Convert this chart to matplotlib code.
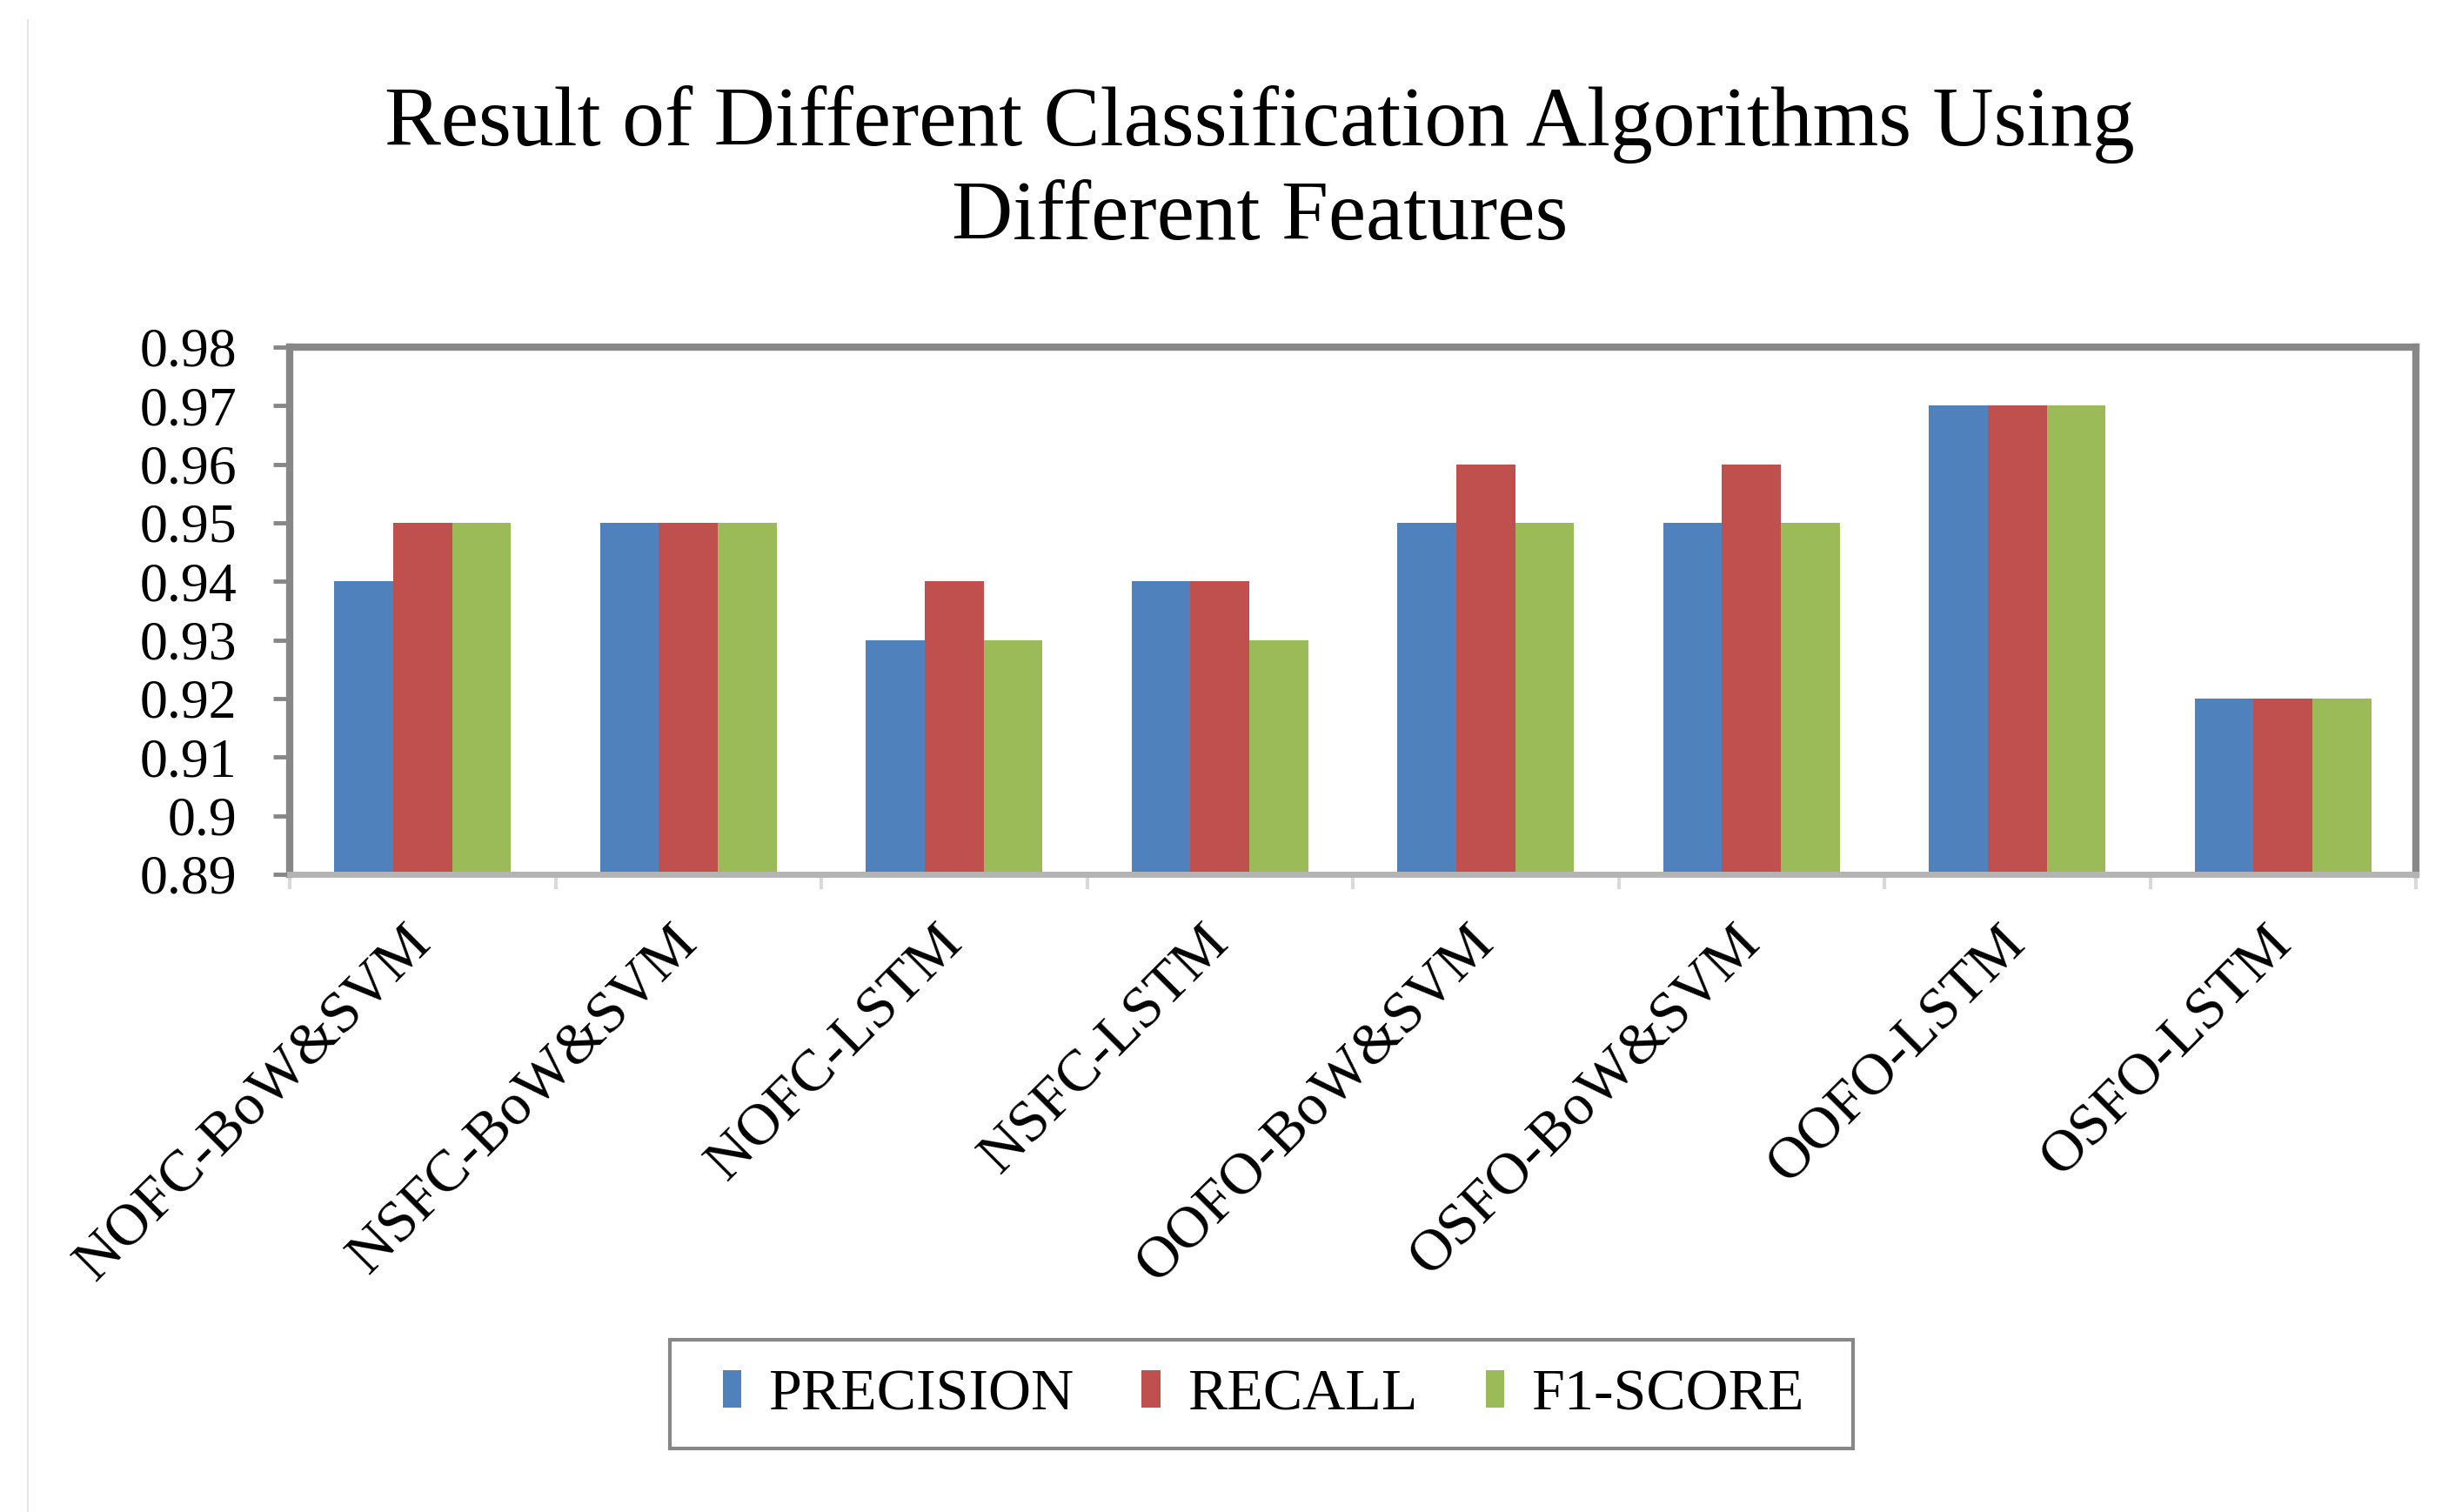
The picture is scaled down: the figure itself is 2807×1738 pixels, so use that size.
import numpy as np
import matplotlib
matplotlib.use("Agg")
import matplotlib.pyplot as plt
from matplotlib.patches import Rectangle
from matplotlib.lines import Line2D

plt.rcParams['font.family'] = ['Liberation Serif', 'DejaVu Serif']

categories = ['NOFC-BoW&SVM', 'NSFC-BoW&SVM', 'NOFC-LSTM', 'NSFC-LSTM',
              'OOFO-BoW&SVM', 'OSFO-BoW&SVM', 'OOFO-LSTM', 'OSFO-LSTM']
precision = [0.94, 0.95, 0.93, 0.94, 0.95, 0.95, 0.97, 0.92]
recall = [0.95, 0.95, 0.94, 0.94, 0.96, 0.96, 0.97, 0.92]
f1_score = [0.95, 0.95, 0.93, 0.93, 0.95, 0.95, 0.97, 0.92]
series_names = ['PRECISION', 'RECALL', 'F1-SCORE']
yticks = [0.89, 0.90, 0.91, 0.92, 0.93, 0.94, 0.95, 0.96, 0.97, 0.98]

colors = ['#4F81BD', '#C0504D', '#9BBB59']
W, H = 2807, 1738

fig = plt.figure(figsize=(W / 100, H / 100), dpi=100)
# axes box in pixel coords of the reference
left, right, top, bottom = 333, 2777, 399, 1005
ax = fig.add_axes([left / W, 1 - bottom / H, (right - left) / W, (bottom - top) / H])

x = np.arange(len(categories))
bw = 0.222
for i, (vals, name) in enumerate(zip([precision, recall, f1_score], series_names)):
    ax.bar(x + (i - 1) * bw, vals, bw, color=colors[i], label=name, zorder=2)

ax.set_xlim(-0.5, len(categories) - 0.5)
ax.set_ylim(0.89, 0.98)
ax.set_yticks(yticks)
ax.set_yticklabels(['%g' % v for v in yticks])
ax.set_xticks(x)
ax.set_xticklabels(categories, rotation=45, ha='right', va='center',
                   rotation_mode='anchor')
ax.set_xticks(np.arange(len(categories) + 1) - 0.5, minor=True)

ax.tick_params(axis='y', direction='out', length=14, width=3.5, color='#878787',
               labelsize=46, pad=30)
ax.tick_params(axis='x', which='major', length=0, labelsize=49, pad=50)
ax.tick_params(axis='x', which='minor', length=12, width=3, color='#d9d9d9')

for s in ['left', 'top', 'right']:
    ax.spines[s].set_color('#878787')
    ax.spines[s].set_linewidth(6)
ax.spines['bottom'].set_color('#b4b4b4')
ax.spines['bottom'].set_linewidth(5)

fig.text(1448 / W, 1 - 197 / H,
         'Result of Different Classification Algorithms Using\nDifferent Features',
         ha='center', va='center', fontsize=70, linespacing=1.3)

# legend box
fig.patches.append(Rectangle((770 / W, 1 - 1665 / H), 1360 / W, 125 / H,
                             transform=fig.transFigure, fill=False,
                             edgecolor='#878787', linewidth=3))
fig.legend(loc='center', bbox_to_anchor=(1452 / W, 1 - 1604 / H), ncol=3,
           frameon=False, fontsize=49, handlelength=0.32, handleheight=0.6,
           handletextpad=0.45, columnspacing=1.15)

# faint outer border at left
fig.add_artist(Line2D([32 / W, 32 / W], [0, 1 - 23 / H], transform=fig.transFigure,
                      color='#e3e3e3', linewidth=1.5))

fig.savefig('out.png', dpi=100)
